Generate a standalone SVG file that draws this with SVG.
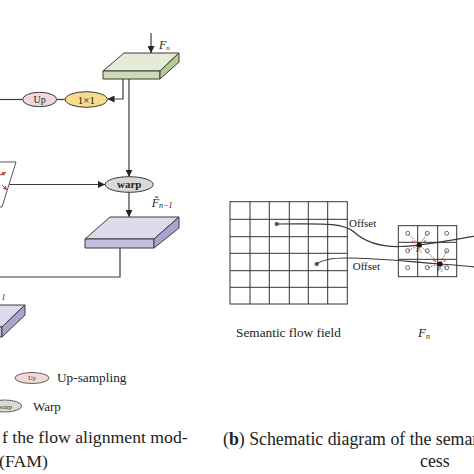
<svg xmlns="http://www.w3.org/2000/svg" width="474" height="474" viewBox="0 0 474 474">
<style>
.ln{fill:none;stroke:#3a3a3a;stroke-width:1.2}
.st{stroke:#3a3a3a;stroke-width:1}
.t{font-family:"Liberation Serif","Times New Roman",serif;fill:#222}
.it{font-style:italic}
.g1{fill:#e4ecd6}.g2{fill:#cddcb6}.g3{fill:#b6cc96}
.p1{fill:#dedaee}.p2{fill:#c6c0e0}.p3{fill:#aaa2cf}
.grid{fill:none;stroke:#333;stroke-width:1}
.dot{fill:none;stroke:#555;stroke-width:0.9}
.dsh{fill:none;stroke:#444;stroke-width:0.8;stroke-dasharray:1.5 1.2}
.red{fill:none;stroke:#d22;stroke-width:1}
</style>
<defs>
<marker id="ah" viewBox="0 0 10 10" refX="10" refY="5" markerWidth="7" markerHeight="7" markerUnits="userSpaceOnUse" orient="auto"><path d="M0,0L10,5L0,10z" fill="#222"/></marker>
<marker id="rh" viewBox="0 0 10 10" refX="10" refY="5" markerWidth="4" markerHeight="4" markerUnits="userSpaceOnUse" orient="auto"><path d="M0,0L10,5L0,10z" fill="#d22"/></marker>
</defs>
<rect width="474" height="474" fill="#fff"/>

<g id="connectors">
<line class="ln" x1="151" y1="33" x2="151" y2="53" marker-end="url(#ah)"/>
<polyline class="ln" points="123,79 123,99 107.5,99" marker-end="url(#ah)"/>
<line class="ln" x1="65.3" y1="99.5" x2="56.7" y2="99.5"/>
<line class="ln" x1="22.7" y1="99.5" x2="0" y2="99.5"/>
<line class="ln" x1="129" y1="79" x2="129" y2="176.7" marker-end="url(#ah)"/>
<line class="ln" x1="9.2" y1="184.5" x2="105" y2="184.5" marker-end="url(#ah)"/>
<line class="ln" x1="129" y1="192.3" x2="129" y2="217" marker-end="url(#ah)"/>
<polyline class="ln" points="120,248 120,277 0,277"/>
</g>

<g id="node-fn-slab">
<polygon class="g1 st" points="103,71 124,53 179,53 160,71"/>
<polygon class="g2 st" points="103,71 160,71 160,79 103,79"/>
<polygon class="g3 st" points="160,71 179,53 179,62 160,79"/>
<text class="t it" x="159" y="49" font-size="12">F<tspan font-size="7" dy="1">n</tspan></text>
</g>

<g id="node-1x1">
<ellipse cx="86.3" cy="99.5" rx="21" ry="7.8" fill="#f8dc8e" class="st"/>
<text class="t" x="86.3" y="103.5" font-size="11" text-anchor="middle">1×1</text>
</g>

<g id="node-up">
<ellipse cx="39.7" cy="99.5" rx="17" ry="7.2" fill="#f2d8d8" class="st"/>
<text class="t" x="39.7" y="103" font-size="10" text-anchor="middle">Up</text>
</g>

<g id="node-flow">
<polygon points="-40,162 16,162 2,207 -54,207" fill="#fff" stroke="#555" stroke-width="1"/>
<line class="red" x1="0" y1="175" x2="6" y2="172.5" marker-end="url(#rh)"/>
<line class="red" x1="2" y1="185" x2="7" y2="190" marker-end="url(#rh)"/>
</g>

<g id="node-warp">
<ellipse cx="129.2" cy="184.5" rx="24" ry="7.8" fill="#d8d8d8" class="st"/>
<text class="t" x="129.2" y="188.3" font-size="11" font-weight="bold" text-anchor="middle" fill="#333">warp</text>
</g>

<g id="node-fn1-slab">
<polygon class="p1 st" points="85,239 110,217 179,217 154,239"/>
<polygon class="p2 st" points="85,239 154,239 154,248 85,248"/>
<polygon class="p3 st" points="154,239 179,217 179,228 154,248"/>
<text class="t it" x="151.7" y="206.7" font-size="12">F̃<tspan font-size="8" dy="1.5">n−1</tspan></text>
</g>

<g id="node-out-slab">
<polygon class="p1 st" points="-50,305 25,305 2,327 -73,327"/>
<polygon class="p2 st" points="-73,327 2,327 2,337 -73,337"/>
<polygon class="p3 st" points="2,327 25,305 25,315 2,337"/>
<text class="t it" x="1.5" y="300" font-size="8">1</text>
</g>

<g id="legend">
<ellipse cx="32" cy="378" rx="17" ry="5.5" fill="#f2d8d8" stroke="#555" stroke-width="0.9"/>
<text class="t" x="32" y="380.2" font-size="6" text-anchor="middle">Up</text>
<text class="t" x="57" y="382" font-size="13.3">Up-sampling</text>
<ellipse cx="4.7" cy="406" rx="17" ry="6" fill="#d8d8d8" stroke="#555" stroke-width="0.9"/>
<text class="t" x="5" y="408.5" font-size="7" text-anchor="middle">warp</text>
<text class="t" x="33" y="411" font-size="13">Warp</text>
</g>

<g id="caption-a">
<text class="t" x="2" y="443" font-size="17.7">f the flow alignment mod-</text>
<text class="t" x="-1" y="467" font-size="17.7">(FAM)</text>
</g>

<g id="node-semantic-grid">
<rect class="grid" x="230" y="201.7" width="117.3" height="102.3"/>
<path class="grid" d="M250,201.7V304M269.3,201.7V304M289.3,201.7V304M308.3,201.7V304M327.7,201.7V304M230,219.3H347.3M230,236.7H347.3M230,253.3H347.3M230,270.7H347.3M230,287.3H347.3"/>
<circle cx="276.7" cy="224" r="1.8" fill="#666" stroke="#333" stroke-width="0.6"/>
<circle cx="316.7" cy="264" r="1.8" fill="#666" stroke="#333" stroke-width="0.6"/>
<text class="t" x="236" y="337" font-size="13.3">Semantic flow field</text>
</g>

<g id="offset-curves">
<path class="ln" d="M276.7,224 C320,224 342,222 354,232 C365,242 380,247 400,246.5 C422,246 450,240 476,236"/>
<path class="ln" d="M316.7,264 C322,260 330,258 346,258 C380,258 410,262 440,264 C455,265 465,266 476,267"/>
<text class="t" x="349" y="227" font-size="11">Offset</text>
<text class="t" x="352.7" y="270" font-size="11">Offset</text>
</g>

<g id="node-fn-grid">
<rect class="grid" x="398.3" y="225.7" width="58.4" height="51"/>
<path class="grid" d="M417.7,225.7V276.7M437.7,225.7V276.7M398.3,242.3H456.7M398.3,259.3H456.7"/>
<g class="dot">
<circle cx="407.7" cy="233.3" r="2"/><circle cx="427.3" cy="233.3" r="2"/><circle cx="446.7" cy="233.3" r="2"/>
<circle cx="407.7" cy="250.7" r="2"/><circle cx="427.3" cy="250.7" r="2"/><circle cx="446.7" cy="250.7" r="2"/>
<circle cx="407.7" cy="267.7" r="2"/><circle cx="427.3" cy="267.7" r="2"/><circle cx="446.7" cy="267.7" r="2"/>
</g>
<path class="dsh" d="M419.3,245L407.7,233.3M419.3,245L427.3,233.3M419.3,245L407.7,250.7M419.3,245L440,264M440,264L446.7,250.7M440,264L427.3,267.7M440,264L446.7,267.7"/>
<path class="red" d="M415,243l-3,-2M423,243l3,-3M436,262l-3,-2M444,262l2,-3"/>
<circle cx="419.3" cy="245" r="2.6" fill="#2a1010"/>
<circle cx="440" cy="264" r="2.6" fill="#2a1010"/>
<text class="t it" x="416" y="252" font-size="6">P<tspan font-size="4" dy="1">1</tspan></text>
<text class="t it" x="437" y="271" font-size="6">P<tspan font-size="4" dy="1">2</tspan></text>
<text class="t it" x="418" y="337" font-size="13">F<tspan font-size="8" dy="1.5">n</tspan></text>
</g>

<g id="caption-b">
<text class="t" x="223" y="445" font-size="17.8">(<tspan font-weight="bold">b</tspan>) Schematic diagram of the seman</text>
<text class="t" x="420" y="467" font-size="17.8">cess</text>
</g>
</svg>
